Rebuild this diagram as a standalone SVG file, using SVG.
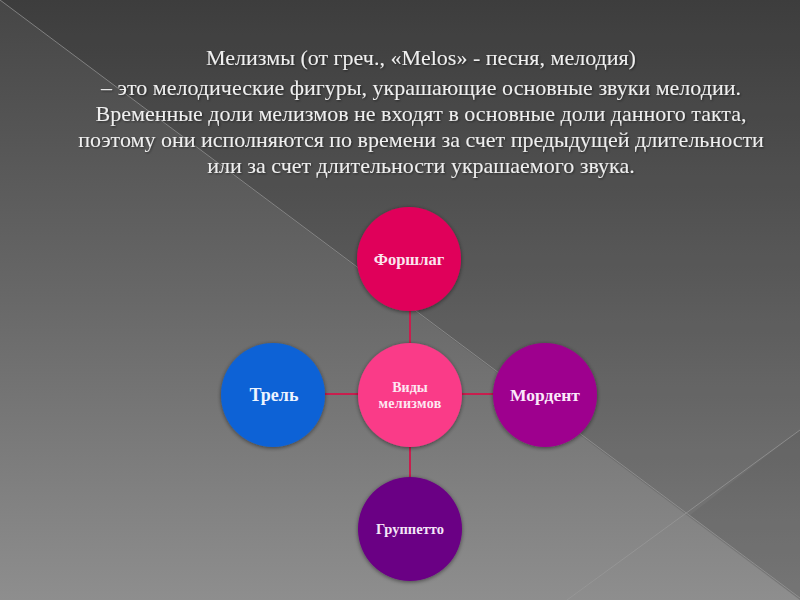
<svg xmlns="http://www.w3.org/2000/svg" width="800" height="600" viewBox="0 0 800 600">
<defs>
<linearGradient id="bg" x1="0" y1="0" x2="0" y2="1">
<stop offset="0" stop-color="#464646"/>
<stop offset="0.5" stop-color="#686868"/>
<stop offset="1" stop-color="#8e8e8e"/>
</linearGradient>
<filter id="sh" x="-20%" y="-20%" width="140%" height="140%">
<feGaussianBlur in="SourceAlpha" stdDeviation="2"/>
<feOffset dx="0" dy="1" result="b"/>
<feComponentTransfer><feFuncA type="linear" slope="0.5"/></feComponentTransfer>
<feMerge><feMergeNode/><feMergeNode in="SourceGraphic"/></feMerge>
</filter>
<filter id="tsh"><feGaussianBlur in="SourceAlpha" stdDeviation="0.8"/><feOffset dx="1" dy="1"/><feComponentTransfer><feFuncA type="linear" slope="0.5"/></feComponentTransfer><feMerge><feMergeNode/><feMergeNode in="SourceGraphic"/></feMerge></filter>
</defs>
<style>
.para{font-family:"Liberation Serif","Times New Roman",serif;font-size:22px;fill:#efefef;text-anchor:middle}
.lbl{font-family:"Liberation Serif","Times New Roman",serif;font-weight:bold;text-anchor:middle}
.node circle{filter:url(#sh)}
.conn line{stroke:#c81e4e;stroke-width:2}
.deco{stroke:#9a9a9a;stroke-width:1;fill:none;opacity:0.7}
</style>
<rect width="800" height="600" fill="url(#bg)"/>
<polygon points="0,0 800,0 800,600" fill="#000" opacity="0.12"/>
<polygon points="800,430 800,600 690,515" fill="#000" opacity="0.05"/>
<line class="deco" x1="0" y1="0" x2="800" y2="598"/>
<line class="deco" x1="567" y1="600" x2="800" y2="430"/>

<g id="paragraph" filter="url(#tsh)">
<text class="para" x="421" y="65">Мелизмы (от греч., «Melos» - песня, мелодия)</text>
<text class="para" x="421" y="95">– это мелодические фигуры, украшающие основные звуки мелодии.</text>
<text class="para" x="421" y="121">Временные доли мелизмов не входят в основные доли данного такта,</text>
<text class="para" x="421" y="147">поэтому они исполняются по времени за счет предыдущей длительности</text>
<text class="para" x="421" y="173">или за счет длительности украшаемого звука.</text>
</g>

<g id="connectors" class="conn">
<line x1="410" y1="310" x2="410" y2="344"/>
<line x1="325" y1="394" x2="358" y2="394"/>
<line x1="462" y1="394" x2="494" y2="394"/>
<line x1="410" y1="446" x2="410" y2="477"/>
</g>

<g id="forshlag" class="node">
<circle cx="409" cy="259" r="52" fill="#e0065a"/>
<text class="lbl" x="409" y="265" font-size="16.5" fill="#fbe6ee">Форшлаг</text>
</g>
<g id="vidy" class="node">
<circle cx="410" cy="395" r="52" fill="#fa3a88"/>
<text class="lbl" x="410" y="392" font-size="14" fill="#fde8f2">Виды</text>
<text class="lbl" x="410" y="408" font-size="14" fill="#fde8f2" letter-spacing="0.3">мелизмов</text>
</g>
<g id="trel" class="node">
<circle cx="273" cy="395" r="52" fill="#0b62d6"/>
<text class="lbl" x="274" y="401" font-size="18" fill="#eef4ff">Трель</text>
</g>
<g id="mordent" class="node">
<circle cx="545" cy="395" r="52" fill="#9e068e"/>
<text class="lbl" x="545" y="401" font-size="17.5" fill="#fbe8fb">Мордент</text>
</g>
<g id="gruppetto" class="node">
<circle cx="410" cy="529" r="52" fill="#6a0584"/>
<text class="lbl" x="410" y="534" font-size="14.5" fill="#f4e6f8">Группетто</text>
</g>
</svg>
